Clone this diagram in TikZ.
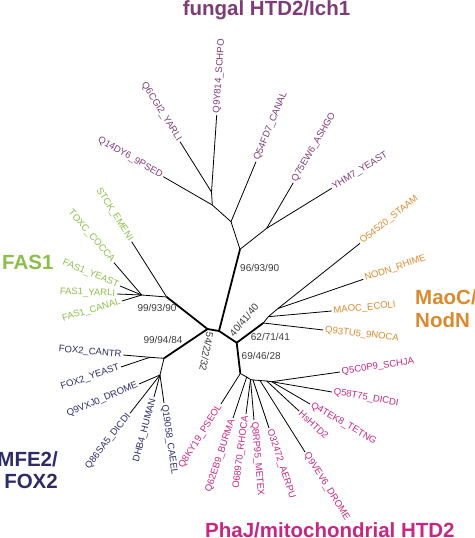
\documentclass[tikz,border=0pt]{standalone}
\usepackage{fontspec}
\setmainfont{Liberation Sans}
\usepackage{xcolor}
\usetikzlibrary{positioning}
\definecolor{fungcol}{RGB}{125,60,120}
\definecolor{fascol}{RGB}{141,190,75}
\definecolor{maocol}{RGB}{217,138,46}
\definecolor{foxcol}{RGB}{45,44,105}
\definecolor{phacol}{RGB}{196,40,130}
\definecolor{bootcol}{RGB}{60,60,60}
\begin{document}
\begin{tikzpicture}[x=1pt, y=-1pt, line join=round]
    \tikzstyle{branch} = [line width=0.8pt, black]
    \tikzstyle{trunk} = [line width=1.8pt, black]
    \tikzstyle{leaf} = [sloped, pos=1, inner sep=1.5pt,
        font=\fontsize{9.5}{10}\selectfont]
    \tikzstyle{boot} = [font=\fontsize{10}{12}\selectfont, text=bootcol, inner sep=0pt]
    \tikzstyle{group} = [font=\bfseries\fontsize{20.5}{22}\selectfont, inner sep=0pt,
        text height=15pt, text depth=5pt]

    \useasboundingbox (0,0) rectangle (474,538);

    % inner nodes
    \coordinate (hub) at (207.5,329);
    \coordinate (jFung) at (219,331);
    \coordinate (jBact) at (236.7,342.7);
    \coordinate (fungA) at (240,249.3);
    \coordinate (fungB) at (266.7,228.3);
    \coordinate (fungC) at (231,221.7);
    \coordinate (fungD) at (212.3,205);
    \coordinate (fungE) at (211.5,192);
    \coordinate (fasA) at (166.7,297);
    \coordinate (fasB) at (141.7,295);
    \coordinate (foxA) at (164,358.3);
    \coordinate (foxB) at (150,357.3);
    \coordinate (foxC) at (160,375);
    \coordinate (maoA) at (263.3,323);
    \coordinate (maoB) at (268.3,316.7);
    \coordinate (maoC) at (278,308.5);
    \coordinate (phaA) at (240.3,373.5);
    \coordinate (phaB) at (246.7,377);
    \coordinate (phaC) at (250.5,379.5);
    \coordinate (phaD) at (253,380);
    \coordinate (phaE) at (260,380.5);
    \coordinate (phaF) at (266.7,381);
    \coordinate (phaG) at (271.7,381.7);

    % leaf tips
    \coordinate (tSCHPO) at (216.7,115);
    \coordinate (tYARLIf) at (180,141.7);
    \coordinate (tCANALf) at (256,161.7);
    \coordinate (tASHGO) at (293.3,182.7);
    \coordinate (tYEASTf) at (331.7,188.3);
    \coordinate (t9PSED) at (163.3,176.7);
    \coordinate (tEMENI) at (131.7,241.7);
    \coordinate (tCOCCA) at (114,262.7);
    \coordinate (tYEASTa) at (120,286);
    \coordinate (tYARLIa) at (117,294);
    \coordinate (tCANALa) at (122,301);
    \coordinate (tCANTR) at (123.3,355);
    \coordinate (tYEASTx) at (121,367);
    \coordinate (tDROMEx) at (139,384);
    \coordinate (tDICDIx) at (130,413.3);
    \coordinate (tHUMAN) at (154,397);
    \coordinate (tCAEEL) at (164,403);
    \coordinate (tSTAAM) at (360,243.3);
    \coordinate (tRHIME) at (363.3,279.3);
    \coordinate (tECOLI) at (331.7,311);
    \coordinate (t9NOCA) at (323.3,330);
    \coordinate (tSCHJA) at (340,372);
    \coordinate (tDICDIp) at (332,392);
    \coordinate (tTETNG) at (310,404);
    \coordinate (tHsHTD) at (299,411);
    \coordinate (tDROMEp) at (305,452);
    \coordinate (tAERPU) at (269,428);
    \coordinate (tMETEX) at (254,420);
    \coordinate (tRHOCA) at (246,414);
    \coordinate (tBURMA) at (233,418);
    \coordinate (tPSEOL) at (221,404);

    \draw [trunk] (fasA) -- (hub) -- (foxA);
    \draw [trunk] (hub) -- (jFung) -- (fungA);
    \draw [trunk] (jFung) -- (jBact) -- (maoA);
    \draw [trunk] (jBact) -- (phaA);

    \draw [branch] (fungA) -- (fungB);
    \draw [branch] (fungA) -- (fungC) -- (fungD) -- (fungE);
    \draw [branch] (fasA) -- (fasB);
    \draw [branch] (foxB) -- (foxA) -- (foxC);
    \draw [branch] (maoA) -- (maoB) -- (maoC);
    \draw [branch] (phaA) -- (phaB) -- (phaC) -- (phaD) -- (phaE) -- (phaF) -- (phaG);

    \foreach \from/\to/\anc/\txt in {fungE/tSCHPO/west/Q9Y814\_SCHPO,
        fungE/tYARLIf/east/Q6CGI2\_YARLI, fungC/tCANALf/west/Q54FD7\_CANAL,
        fungB/tASHGO/west/Q75EW6\_ASHGO, fungB/tYEASTf/west/YHM7\_YEAST,
        fungD/t9PSED/east/Q14DY6\_9PSED}
        \draw [branch] (\from) -- (\to) node[leaf, anchor=\anc, text=fungcol] (l\to) {\txt};

    \foreach \from/\to/\anc/\txt in {fasA/tEMENI/east/STCK\_EMENI,
        fasB/tCOCCA/east/TOXC\_COCCA, fasB/tYEASTa/east/FAS1\_YEAST,
        fasB/tYARLIa/east/FAS1\_YARLI, fasB/tCANALa/east/FAS1\_CANAL}
        \draw [branch] (\from) -- (\to) node[leaf, anchor=\anc, text=fascol] (l\to) {\txt};

    \foreach \from/\to/\anc/\txt in {foxB/tCANTR/east/FOX2\_CANTR,
        foxB/tYEASTx/east/FOX2\_YEAST, foxC/tDROMEx/east/Q9VXJ0\_DROME,
        foxC/tDICDIx/east/Q86SA5\_DICDI, foxC/tHUMAN/east/DHB4\_HUMAN,
        foxC/tCAEEL/west/Q19058\_CAEEL}
        \draw [branch] (\from) -- (\to) node[leaf, anchor=\anc, text=foxcol] (l\to) {\txt};

    \foreach \from/\to/\anc/\txt in {maoC/tSTAAM/west/O54520\_STAAM,
        maoC/tRHIME/west/NODN\_RHIME, maoB/tECOLI/west/MAOC\_ECOLI,
        maoA/t9NOCA/west/Q93TU5\_9NOCA}
        \draw [branch] (\from) -- (\to) node[leaf, anchor=\anc, text=maocol] (l\to) {\txt};

    \foreach \from/\to/\anc/\txt in {phaG/tSCHJA/west/Q5C0P9\_SCHJA,
        phaG/tDICDIp/west/Q58T75\_DICDI, phaG/tTETNG/west/Q4TEK8\_TETNG,
        phaF/tHsHTD/west/HsHTD2, phaE/tDROMEp/west/Q9VEV6\_DROME,
        phaD/tAERPU/west/O32472\_AERPU, phaC/tMETEX/west/Q8RP95\_METEX,
        phaC/tRHOCA/east/O68970\_RHOCA, phaB/tBURMA/east/Q62EB9\_BURMA,
        phaA/tPSEOL/east/Q8KY19\_PSEOL}
        \draw [branch] (\from) -- (\to) node[leaf, anchor=\anc, text=phacol] (l\to) {\txt};

    % bootstrap values
    \node (bsFung) [boot, anchor=west] at (240,268) {96/93/90};
    \node (bsFas) [boot] at (157,308) {99/93/90};
    \node (bsFox) [boot] at (163,340) {99/94/84};
    \node (bsBact) [boot, rotate=50] at (244,320) {40/41/40};
    \node (bsHub) [boot, rotate=-101] at (206.5,351.5) {54/22/32};
    \node (bsMao) [boot, anchor=west] at (250.7,337.3) {62/71/41};
    \node (bsPha) [boot, anchor=west] at (241.5,355.5) {69/46/28};

    % group names
    \node (gFung) [group, anchor=base, text=fungcol] at (266.5,16) {fungal HTD2/Ich1};
    \node (gFas) [group, anchor=base west, text=fascol] at (2,269) {FAS1};
    \node (gMaoA) [group, anchor=base west, text=maocol] at (415,304) {MaoC/};
    \node (gMaoB) [group, below right=3pt and 0pt of gMaoA.south west, text=maocol] {NodN};
    \node (gFoxA) [group, anchor=base east, text=foxcol] at (58,466.7) {MFE2/};
    \node (gFoxB) [group, below left=1.6pt and 0pt of gFoxA.south east, text=foxcol] {FOX2};
    \node (gPha) [group, anchor=base west, text=phacol] at (205,537) {PhaJ/mitochondrial HTD2};
\end{tikzpicture}
\end{document}
